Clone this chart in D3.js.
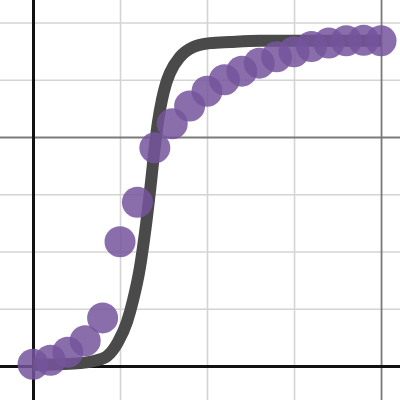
<!DOCTYPE html>
<html>
<head>
<meta charset="utf-8">
<script src="https://cdn.jsdelivr.net/npm/d3@7"></script>
<style>
  body { margin: 0; background: #fff; }
  svg { display: block; }
</style>
</head>
<body>
<svg id="chart"></svg>
<script>
// measured points (purple dots)
const dotX = [0, 1, 2, 3, 4, 5, 6, 7, 8, 9, 10, 11, 12, 13, 14, 15, 16, 17, 18, 19, 20];
const dotY = [0.03, 0.10, 0.24, 0.44, 0.84, 2.17, 2.86, 3.81, 4.23, 4.54, 4.80,
              5.00, 5.15, 5.29, 5.40, 5.49, 5.58, 5.64, 5.68, 5.69, 5.68];

// fitted curve
const curveX = [0, 1.55, 2.7, 3.56, 4.25, 4.89, 5.4, 5.75, 6.15, 6.44, 6.78, 7.01,
                7.18, 7.41, 7.64, 7.87, 8.45, 9.2, 10.17, 11.32, 13.05, 15.34, 20];
const curveY = [0.02, 0.03, 0.05, 0.09, 0.17, 0.42, 0.77, 1.15, 1.73, 2.34, 3.21, 3.86,
                4.26, 4.65, 4.93, 5.12, 5.40, 5.57, 5.64, 5.66, 5.68, 5.68, 5.68];

// grid lines
const xMinor = [5, 10, 15];
const xMajor = [20];
const yMinor = [1, 2, 3, 5, 6];
const yMajor = [4];

const width = 400, height = 400;

const svg = d3.select('#chart')
    .attr('width', width)
    .attr('height', height);

const xscale = d3.scaleLinear()
    .domain([-1.897, 21.09])
    .range([0, width]);

const yscale = d3.scaleLinear()
    .domain([-0.594, 6.393])
    .range([height, 0]);

function gridX(values, color, w) {
    const g = svg.append('g')
        .attr('transform', `translate(0, ${height})`)
        .call(d3.axisBottom(xscale).tickValues(values).tickSize(-height).tickFormat(''));
    g.select('.domain').remove();
    g.selectAll('line').attr('stroke', color).attr('stroke-width', w);
}

function gridY(values, color, w) {
    const g = svg.append('g')
        .call(d3.axisLeft(yscale).tickValues(values).tickSize(-width).tickFormat(''));
    g.select('.domain').remove();
    g.selectAll('line').attr('stroke', color).attr('stroke-width', w);
}

gridX(xMinor, '#d4d4d4', 1.6);
gridY(yMinor, '#d4d4d4', 1.6);
gridX(xMajor, '#7a7a7a', 1.8);
gridY(yMajor, '#7a7a7a', 1.8);

// axes
gridX([0], '#111', 3);
gridY([0], '#111', 3);

// curve
const curveData = curveX.map((x, i) => ({ x: x, y: curveY[i] }));
const line = d3.line()
    .x(d => xscale(d.x))
    .y(d => yscale(d.y))
    .curve(d3.curveMonotoneX);

svg.append('path')
    .datum(curveData)
    .attr('d', line)
    .attr('fill', 'none')
    .attr('stroke', '#4a4a4a')
    .attr('stroke-width', 12)
    .attr('stroke-linejoin', 'round');

// dots
const dots = dotX.map((x, i) => ({ x: x, y: dotY[i] }));
svg.append('g')
    .selectAll('circle')
    .data(dots).enter()
    .append('circle')
    .attr('cx', d => xscale(d.x))
    .attr('cy', d => yscale(d.y))
    .attr('r', 15.5)
    .attr('fill', '#74559c')
    .attr('fill-opacity', 0.85);
</script>
</body>
</html>
